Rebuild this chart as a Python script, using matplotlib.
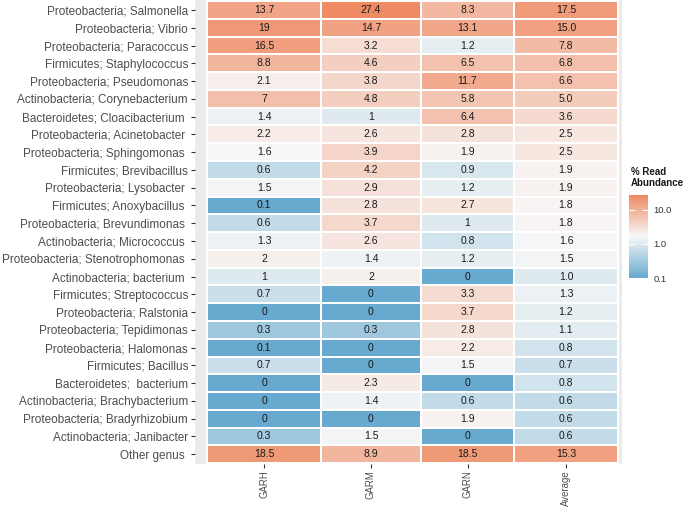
import matplotlib

matplotlib.use("Agg")

import matplotlib.pyplot as plt  # noqa: E402
import numpy as np  # noqa: E402
from matplotlib.colors import LinearSegmentedColormap, TwoSlopeNorm  # noqa: E402
from matplotlib.cm import ScalarMappable  # noqa: E402

plt.rcParams["font.family"] = ["Liberation Sans", "DejaVu Sans"]

# genus labels, top to bottom
genera = [
    "Proteobacteria; Salmonella",
    "Proteobacteria; Vibrio",
    "Proteobacteria; Paracoccus",
    "Firmicutes; Staphylococcus",
    "Proteobacteria; Pseudomonas",
    "Actinobacteria; Corynebacterium",
    "Bacteroidetes; Cloacibacterium ",
    "Proteobacteria; Acinetobacter ",
    "Proteobacteria; Sphingomonas ",
    "Firmicutes; Brevibacillus",
    "Proteobacteria; Lysobacter ",
    "Firmicutes; Anoxybacillus ",
    "Proteobacteria; Brevundimonas ",
    "Actinobacteria; Micrococcus ",
    "Proteobacteria; Stenotrophomonas ",
    "Actinobacteria; bacterium ",
    "Firmicutes; Streptococcus",
    "Proteobacteria; Ralstonia",
    "Proteobacteria; Tepidimonas",
    "Proteobacteria; Halomonas",
    "Firmicutes; Bacillus",
    "Bacteroidetes;  bacterium",
    "Actinobacteria; Brachybacterium",
    "Proteobacteria; Bradyrhizobium",
    "Actinobacteria; Janibacter",
    "Other genus ",
]
samples = ["GARH", "GARM", "GARN", "Average"]

garh = [13.7, 19, 16.5, 8.8, 2.1, 7, 1.4, 2.2, 1.6, 0.6, 1.5, 0.1, 0.6,
        1.3, 2, 1, 0.7, 0, 0.3, 0.1, 0.7, 0, 0, 0, 0.3, 18.5]
garm = [27.4, 14.7, 3.2, 4.6, 3.8, 4.8, 1, 2.6, 3.9, 4.2, 2.9, 2.8, 3.7,
        2.6, 1.4, 2, 0, 0, 0.3, 0, 0, 2.3, 1.4, 0, 1.5, 8.9]
garn = [8.3, 13.1, 1.2, 6.5, 11.7, 5.8, 6.4, 2.8, 1.9, 0.9, 1.2, 2.7, 1,
        0.8, 1.2, 0, 3.3, 3.7, 2.8, 2.2, 1.5, 0, 0.6, 1.9, 0, 18.5]
average = [17.5, 15.0, 7.8, 6.8, 6.6, 5.0, 3.6, 2.5, 2.5, 1.9, 1.9, 1.8, 1.8,
           1.6, 1.5, 1.0, 1.3, 1.2, 1.1, 0.8, 0.7, 0.8, 0.6, 0.6, 0.6, 15.3]

legend_ticks = [0.1, 1.0, 10.0]

values = np.column_stack([garh, garm, garn, average])
n_rows, n_cols = values.shape

# fill on a log10 scale, zeros drawn at the floor of the scale;
# the neutral (white) point of the reference sits a little above 1 %
WHITE_AT = 1.65
logv = np.log10(np.clip(values, 0.1, None))
cmap = LinearSegmentedColormap.from_list("rdbu3", ["#67a9cf", "#f7f7f7", "#ef8a62"])
norm = TwoSlopeNorm(vmin=-1.0, vcenter=np.log10(WHITE_AT), vmax=np.log10(values.max()))

# panel geometry in figure pixels (the source columns are not equally wide)
W, H = 685, 507
PANEL_X = (195, 622)
PANEL_Y = (0, 464)
col_edges = np.array([207, 321, 421, 514, 618])
row_h = 17.77
row_top = 1.1

fig = plt.figure(figsize=(W / 100, H / 100), dpi=100)
ax = fig.add_axes([PANEL_X[0] / W, 1 - PANEL_Y[1] / H,
                   (PANEL_X[1] - PANEL_X[0]) / W, (PANEL_Y[1] - PANEL_Y[0]) / H])
ax.set_facecolor("#ebebeb")

col_mid = (col_edges[:-1] + col_edges[1:]) / 2
row_edges = np.arange(n_rows + 1) - 0.5
ax.pcolormesh(col_edges, row_edges, logv, cmap=cmap, norm=norm,
              edgecolors="white", linewidth=1.2)

for i in range(n_rows):
    for j in range(n_cols):
        v = values[i, j]
        txt = f"{v:.1f}" if j == n_cols - 1 else f"{v:g}"
        ax.text(col_mid[j], i, txt, ha="center", va="center", fontsize=7.5,
                color="#1a1a1a")

ax.set_xlim(*PANEL_X)
y_bottom = -0.5 + (PANEL_Y[1] - row_top) / row_h
ax.set_ylim(y_bottom, -0.5 - row_top / row_h)
ax.set_xticks(col_mid)
ax.set_xticklabels(samples, rotation=90, fontsize=6.9, color="#4d4d4d")
ax.tick_params(axis="x", pad=1.5)
ax.set_yticks(range(n_rows))
ax.set_yticklabels(genera, fontsize=8.5, color="#4d4d4d")
ax.tick_params(length=3, width=0.8, color="#333333")
ax.tick_params(axis="y", pad=2)
for s in ax.spines.values():
    s.set_visible(False)

# colour bar legend
cax = fig.add_axes([629 / W, 1 - 278 / H, 19 / W, 83 / H])
cb = fig.colorbar(ScalarMappable(norm=norm, cmap=cmap), cax=cax)
cb.outline.set_visible(False)
cb.set_ticks(np.log10(legend_ticks))
cb.set_ticklabels([f"{t:.1f}" for t in legend_ticks])
cax.tick_params(direction="in", color="white", length=4, width=0.8,
                left=True, right=True, labelsize=6.8, labelcolor="#333333", pad=4)
fig.text(631 / W, 1 - 167 / H, "% Read\nAbundance", fontsize=7, fontweight="bold",
         ha="left", va="top", color="#1a1a1a", linespacing=1.1)

fig.savefig("out.png", dpi=100)
